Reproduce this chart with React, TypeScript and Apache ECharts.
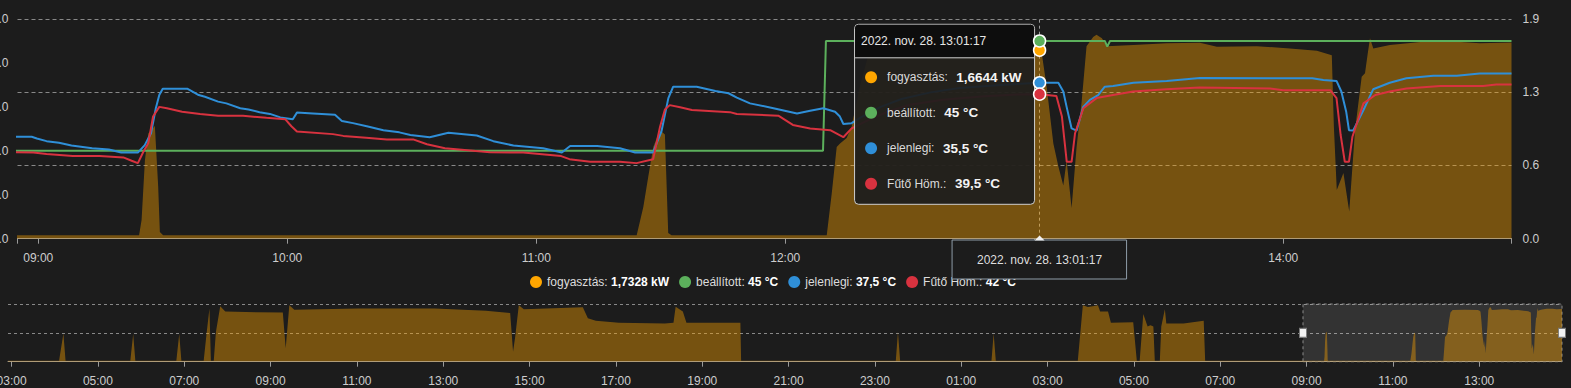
import React, { useEffect, useRef } from 'react';
import * as echarts from 'echarts';

// ---------- data ----------
const TZ_OFFSET = 3600000; // CET (UTC+1)
const HOUR = 3600000;

const VIEW_START = '11-28 08:55:00';
const VIEW_END = '11-28 14:55:00';
const OVERVIEW_START = '11-27 02:55:00';
const LABEL_AXIS_END = '11-28 15:00:00';
const POINTER_TIME = '11-28 13:01:17';

const SERIES_NAMES = ['fogyasztás', 'beállított', 'jelenlegi', 'Fűtő Höm.'];
const SERIES_COLORS = ['#ffa600', '#5cb05c', '#2f8fd8', '#d8323f'];
const LEGEND_VALUES = ['1,7328 kW', '45 °C', '37,5 °C', '42 °C'];
const TOOLTIP_TITLE = '2022. nov. 28. 13:01:17';
const TOOLTIP_VALUES = ['1,6644 kW', '45 °C', '35,5 °C', '39,5 °C'];

const TEMP_MIN = 0;
const TEMP_MAX = 50;
const TEMP_INTERVAL = 10;
const POWER_MAX = 1.94;
const OVERVIEW_MAX = 1.9;

// fogyasztás (kW) – full history
const FOGYASZTAS: [string, number][] = [
  ['11-27 02:55', 0.03],
  ['11-27 04:06', 0.03], ['11-27 04:12', 0.93], ['11-27 04:15', 0.03],
  ['11-27 05:45', 0.03], ['11-27 05:49', 0.91], ['11-27 05:52', 0.03],
  ['11-27 06:49', 0.03], ['11-27 06:53', 0.91], ['11-27 06:56', 0.03],
  ['11-27 07:27', 0.03], ['11-27 07:31', 0.93], ['11-27 07:35', 1.75], ['11-27 07:37', 0.03],
  ['11-27 07:41', 0.03], ['11-27 07:44', 0.98], ['11-27 07:50', 1.83], ['11-27 07:57', 1.65],
  ['11-27 08:40', 1.63], ['11-27 09:17', 1.62], ['11-27 09:21', 0.44], ['11-27 09:26', 1.86],
  ['11-27 09:33', 1.71], ['11-27 11:02', 1.75], ['11-27 12:48', 1.75], ['11-27 13:59', 1.68],
  ['11-27 14:33', 1.6], ['11-27 14:37', 0.33], ['11-27 14:40', 0.82], ['11-27 14:45', 1.86],
  ['11-27 14:52', 1.73], ['11-27 16:14', 1.79], ['11-27 16:21', 1.43], ['11-27 16:32', 1.35],
  ['11-27 17:04', 1.28], ['11-27 18:08', 1.26], ['11-27 18:20', 1.28], ['11-27 18:23', 1.81],
  ['11-27 18:33', 1.65], ['11-27 18:38', 1.28], ['11-27 19:53', 1.28], ['11-27 19:54', 0.03],
  ['11-27 23:29', 0.03], ['11-27 23:32', 0.98], ['11-27 23:35', 0.03],
  ['11-28 01:42', 0.03], ['11-28 01:45', 0.93], ['11-28 01:48', 0.03],
  ['11-28 03:42', 0.03], ['11-28 03:49', 1.86], ['11-28 03:56', 1.8], ['11-28 04:03', 1.83],
  ['11-28 04:10', 1.86], ['11-28 04:13', 1.65], ['11-28 04:24', 1.65], ['11-28 04:28', 1.28],
  ['11-28 04:59', 1.3], ['11-28 05:04', 0.03],
  ['11-28 05:08', 0.03], ['11-28 05:13', 1.57], ['11-28 05:19', 1.16], ['11-28 05:23', 1.2],
  ['11-28 05:27', 1.16], ['11-28 05:29', 0.03],
  ['11-28 05:36', 0.03], ['11-28 05:38', 1.16], ['11-28 05:43', 1.73], ['11-28 05:45', 1.26],
  ['11-28 06:09', 1.26], ['11-28 06:37', 1.35], ['11-28 06:39', 0.03],
  ['11-28 09:24:18', 0.03], ['11-28 09:24:54', 0.165], ['11-28 09:25:42', 0.69], ['11-28 09:26:30', 0.93],
  ['11-28 09:28:06', 0.995], ['11-28 09:28:54', 0.46], ['11-28 09:29:18', 0.06], ['11-28 09:30:06', 0.03],
  ['11-28 11:24:12', 0.03], ['11-28 11:25:48', 0.28], ['11-28 11:27:00', 0.55], ['11-28 11:28:12', 0.81],
  ['11-28 11:29:48', 0.96], ['11-28 11:31:00', 0.92], ['11-28 11:31:48', 0.05], ['11-28 11:32:36', 0.03],
  ['11-28 12:10:00', 0.03], ['11-28 12:11:12', 0.4], ['11-28 12:12:24', 0.81], ['11-28 12:13:12', 0.84],
  ['11-28 12:14:48', 0.89], ['11-28 12:16:00', 0.99], ['11-28 12:18:00', 1.35], ['11-28 12:20:00', 1.62],
  ['11-28 12:23:00', 1.7], ['11-28 12:40:00', 1.71], ['11-28 12:58:00', 1.7], ['11-28 13:00:30', 1.68],
  ['11-28 13:01:17', 1.6644], ['11-28 13:01:48', 1.64], ['11-28 13:03:00', 1.34], ['11-28 13:04:36', 0.84],
  ['11-28 13:05:48', 0.64], ['11-28 13:07:00', 0.47], ['11-28 13:07:48', 0.69], ['11-28 13:09:00', 0.27],
  ['11-28 13:10:12', 0.81], ['11-28 13:11:24', 1.2], ['11-28 13:12:36', 1.7], ['11-28 13:14:12', 1.78],
  ['11-28 13:15:00', 1.8], ['11-28 13:16:18', 1.77], ['11-28 13:17:30', 1.7], ['11-28 13:23:54', 1.71],
  ['11-28 13:31:54', 1.725], ['11-28 13:39:54', 1.73], ['11-28 13:44:00', 1.695], ['11-28 13:53:36', 1.7],
  ['11-28 14:01:36', 1.68], ['11-28 14:08:06', 1.66], ['11-28 14:11:42', 1.62], ['11-28 14:12:12', 0.99],
  ['11-28 14:12:54', 0.43], ['11-28 14:14:30', 0.58], ['11-28 14:15:54', 0.24], ['11-28 14:17:18', 0.96],
  ['11-28 14:18:54', 1.43], ['11-28 14:19:42', 1.46], ['11-28 14:20:18', 1.62], ['11-28 14:20:54', 1.77],
  ['11-28 14:21:42', 1.68], ['11-28 14:25:42', 1.71], ['11-28 14:33:42', 1.74], ['11-28 14:41:48', 1.74],
  ['11-28 14:47:24', 1.725], ['11-28 14:55:00', 1.7328],
];

// beállított (°C)
const BEALLITOTT: [string, number][] = [
  ['08:54:30', 20], ['12:09:06', 20], ['12:09:48', 45], ['13:01:17', 45], ['13:17:00', 45],
  ['13:17:36', 43.7], ['13:18:15', 45], ['14:55:00', 45],
];

// jelenlegi (°C)
const JELENLEGI: [string, number][] = [
  ['08:54:30', 23.2], ['08:58:25', 23.2], ['08:59:40', 22.8], ['09:02:00', 22.2], ['09:05:00', 21.85],
  ['09:08:00', 21.2], ['09:13:00', 20.6], ['09:17:00', 20.3], ['09:20:00', 19.6], ['09:24:00', 19.6],
  ['09:25:40', 21.3], ['09:27:10', 24], ['09:28:20', 29.7], ['09:29:10', 32.7], ['09:30:00', 34.1],
  ['09:36:00', 34.1], ['09:38:40', 32.7], ['09:40:10', 32.3], ['09:43:20', 31.2], ['09:45:20', 30.8],
  ['09:48:40', 29.7], ['09:50:40', 29.4], ['09:53:20', 28.8], ['09:55:50', 28.4], ['09:58:20', 27.6],
  ['10:01:20', 27.2], ['10:02:20', 28.7], ['10:06:10', 28.5], ['10:11:30', 28.2], ['10:13:10', 26.8],
  ['10:15:50', 26.3], ['10:19:10', 25.6], ['10:23:10', 24.7], ['10:27:00', 24.2], ['10:29:40', 23.6],
  ['10:34:20', 23.1], ['10:38:50', 24.1], ['10:45:40', 23.5], ['10:49:40', 22.2], ['10:54:30', 21.2],
  ['11:01:40', 20.6], ['11:06:10', 19.6], ['11:08:10', 21.1], ['11:14:40', 21.1], ['11:20:10', 20.6],
  ['11:23:50', 19.6], ['11:28:10', 19.6], ['11:29:00', 21.7], ['11:30:10', 24.4], ['11:31:50', 32],
  ['11:33:00', 34.6], ['11:38:40', 34.6], ['11:43:10', 33.6], ['11:46:20', 33.1], ['11:48:20', 32.1],
  ['11:51:30', 30.8], ['11:57:10', 29.7], ['12:02:50', 28.5], ['12:06:00', 29.1], ['12:09:10', 29.7],
  ['12:12:00', 28.9], ['12:13:10', 27.8], ['12:14:00', 26.1], ['12:16:00', 26.3], ['12:18:00', 27.5],
  ['12:23:00', 30], ['12:28:00', 31.8], ['12:35:00', 33.3], ['12:42:00', 34.3], ['12:52:00', 35.0],
  ['13:01:17', 35.5], ['13:05:48', 35.5], ['13:07:00', 33.5], ['13:07:48', 30], ['13:09:00', 25.1],
  ['13:10:12', 24.6], ['13:11:48', 30], ['13:13:24', 31.6], ['13:15:24', 32.7], ['13:17:00', 34.6],
  ['13:19:00', 34.75], ['13:23:54', 35.5], ['13:31:54', 35.9], ['13:39:54', 36.6], ['14:07:00', 36.5],
  ['14:09:40', 36.1], ['14:12:50', 35.9], ['14:14:00', 33.5], ['14:15:10', 28.9], ['14:15:50', 24.7],
  ['14:16:50', 24.6], ['14:19:20', 29.3], ['14:21:40', 34], ['14:25:40', 35.5], ['14:29:40', 36.5],
  ['14:36:10', 37.1], ['14:41:50', 37.1], ['14:47:20', 37.6], ['14:55:00', 37.6],
];

// Fűtő Höm. (°C)
const FUTO_HOM: [string, number][] = [
  ['08:54:30', 19.7], ['08:58:50', 19.6], ['09:02:00', 19.3], ['09:08:20', 18.8], ['09:14:50', 18.8],
  ['09:20:30', 18.5], ['09:22:30', 17.75], ['09:24:00', 17.2], ['09:25:20', 19.8], ['09:26:30', 21.7],
  ['09:27:40', 27.8], ['09:29:10', 30], ['09:31:00', 29.7], ['09:34:40', 28.9], ['09:39:00', 28.4],
  ['09:43:20', 28], ['09:49:20', 28], ['09:55:00', 27.5], ['09:59:30', 27.2], ['10:01:00', 25.6],
  ['10:02:20', 24.4], ['10:11:00', 23.8], ['10:13:30', 23.4], ['10:19:00', 23], ['10:24:00', 22.6],
  ['10:30:20', 22.6], ['10:33:40', 21.5], ['10:38:00', 20.6], ['10:48:50', 19.7], ['10:56:50', 19.6],
  ['11:06:00', 18.8], ['11:08:00', 18.1], ['11:13:00', 17.5], ['11:20:10', 17.5], ['11:24:10', 17.2],
  ['11:28:10', 18.1], ['11:29:50', 25.5], ['11:31:00', 29.4], ['11:32:10', 30.4], ['11:34:40', 29.9],
  ['11:37:30', 29.3], ['11:46:40', 28.8], ['11:48:20', 28.4], ['11:58:20', 28], ['12:01:50', 25.9],
  ['12:06:00', 25.1], ['12:10:50', 24.7], ['12:14:00', 23.1], ['12:16:00', 25.1], ['12:20:00', 27],
  ['12:25:00', 29], ['12:30:00', 30.5], ['12:38:00', 31.6], ['12:48:00', 32.4], ['12:56:00', 32.8],
  ['13:01:17', 32.9], ['13:05:20', 32.5], ['13:06:40', 27.8], ['13:07:50', 17.5], ['13:09:00', 17.5],
  ['13:09:50', 24], ['13:11:50', 29.7], ['13:15:00', 32], ['13:19:00', 32.7], ['13:23:50', 33.5],
  ['13:31:50', 34], ['13:39:50', 34.4], ['13:56:50', 34.2], ['14:00:00', 33.8], ['14:11:20', 33.8],
  ['14:12:50', 32], ['14:13:50', 23.6], ['14:14:50', 17.5], ['14:15:50', 17.5], ['14:16:40', 23.2],
  ['14:19:20', 30.8], ['14:22:10', 32.7], ['14:25:40', 33.5], ['14:29:40', 34.2], ['14:37:50', 34.75],
  ['14:48:10', 34.75], ['14:51:20', 35.1], ['14:55:00', 35.1],
];

// ---------- helpers ----------
const FONT = "'Liberation Sans', Arial, Helvetica, sans-serif";
const LABEL_COLOR = '#cdcdcd';
const AXIS_COLOR = '#9a9a9a';
const SPLIT_COLOR = 'rgba(255,255,255,0.48)';

function ts(s: string): number {
  const full = s.indexOf(' ') < 0 ? '11-28 ' + s : s;
  const m = full.match(/^(\d+)-(\d+) (\d+):(\d+)(?::(\d+))?$/)!;
  return Date.UTC(2022, +m[1] - 1, +m[2], +m[3], +m[4], m[5] ? +m[5] : 0) - TZ_OFFSET;
}

function toSeries(arr: [string, number][]) {
  return arr.map(([t, v]) => [ts(t), v]);
}

function valueAt(arr: [string, number][], t: string): number {
  const target = ts(t);
  const hit = arr.find(([tt]) => ts(tt) === target);
  return hit ? hit[1] : 0;
}

function hourLabel(v: number): string {
  const d = new Date(v + TZ_OFFSET);
  if (d.getUTCMinutes() !== 0 || d.getUTCSeconds() !== 0) return '';
  return String(d.getUTCHours()).padStart(2, '0') + ':00';
}

// the main axis label lying under the pointer's time box is hidden by it
function mainHourLabel(v: number): string {
  if (Math.abs(v - ts(POINTER_TIME)) < 25 * 60000) return '';
  return hourLabel(v);
}

const SERIES_DATA = [FOGYASZTAS, BEALLITOTT, JELENLEGI, FUTO_HOM];

function buildOption(): any {
  const pointer = ts(POINTER_TIME);
  const markPointFor = (i: number) => ({
    silent: true,
    z: 10,
    symbol: 'circle',
    symbolSize: 12,
    label: { show: false },
    itemStyle: { color: SERIES_COLORS[i], borderColor: '#ffffff', borderWidth: 1.5 },
    data: [{ coord: [pointer, valueAt(SERIES_DATA[i], POINTER_TIME)] }],
  });

  const axisLabelStyle = { color: LABEL_COLOR, fontSize: 12, fontFamily: FONT };
  const gridBase = { containLabel: false, outerBoundsMode: 'none' };

  return {
    animation: false,
    useUTC: true,
    backgroundColor: '#1c1c1c',
    textStyle: { fontFamily: FONT },
    tooltip: { show: false },
    legend: {
      data: SERIES_NAMES,
      left: 525,
      top: 271,
      icon: 'circle',
      itemWidth: 12,
      itemHeight: 12,
      itemGap: 10,
      selectedMode: false,
      formatter: (name: string) => {
        const i = SERIES_NAMES.indexOf(name);
        return `{l|${name}:} {v|${LEGEND_VALUES[i]}}`;
      },
      textStyle: {
        rich: {
          l: { color: '#dcdcdc', fontSize: 12, fontFamily: FONT },
          v: { color: '#ffffff', fontSize: 12, fontWeight: 'bold', fontFamily: FONT },
        },
      },
    },
    grid: [
      { ...gridBase, left: 17.5, top: 19, width: 1494, height: 219.7 },
      { ...gridBase, left: 8, top: 304, width: 1554, height: 57.7 },
      { ...gridBase, left: 17.5, top: 19, width: 1514.75, height: 219.7 },
    ],
    xAxis: [
      {
        type: 'time', gridIndex: 0, min: ts(VIEW_START), max: ts(VIEW_END),
        axisLine: { lineStyle: { color: AXIS_COLOR, width: 1 } },
        axisTick: { show: true, length: 5, lineStyle: { color: AXIS_COLOR } },
        axisLabel: { show: false },
        splitLine: { show: false },
      },
      {
        type: 'time', gridIndex: 1, min: ts(OVERVIEW_START), max: ts(VIEW_END),
        minInterval: 2.2 * HOUR, maxInterval: 2.2 * HOUR,
        axisLine: { lineStyle: { color: AXIS_COLOR, width: 1 } },
        axisTick: { show: true, length: 5, lineStyle: { color: AXIS_COLOR } },
        axisLabel: { ...axisLabelStyle, margin: 13, formatter: hourLabel },
        splitLine: { show: false },
      },
      {
        type: 'time', gridIndex: 2, min: ts(VIEW_START), max: ts(LABEL_AXIS_END),
        axisLine: { show: false },
        axisTick: { show: false },
        axisLabel: { ...axisLabelStyle, margin: 13, formatter: mainHourLabel },
        splitLine: { show: false },
      },
    ],
    yAxis: [
      {
        type: 'value', gridIndex: 0, position: 'left', min: TEMP_MIN, max: TEMP_MAX, interval: TEMP_INTERVAL,
        axisLine: { show: false }, axisTick: { show: false }, splitLine: { show: false },
        axisLabel: { ...axisLabelStyle, margin: 9, formatter: (v: number) => v.toFixed(1) },
      },
      {
        type: 'value', gridIndex: 0, position: 'right', min: 0, max: POWER_MAX, interval: POWER_MAX / 3,
        axisLine: { show: false }, axisTick: { show: false },
        splitLine: { show: true, lineStyle: { color: SPLIT_COLOR, type: [4, 3], width: 1 } },
        axisLabel: { ...axisLabelStyle, margin: 11, formatter: (v: number) => v.toFixed(1) },
      },
      {
        type: 'value', gridIndex: 1, min: 0, max: OVERVIEW_MAX, interval: OVERVIEW_MAX / 2,
        axisLine: { show: false }, axisTick: { show: false }, axisLabel: { show: false },
        splitLine: { show: true, lineStyle: { color: SPLIT_COLOR, type: [3, 3], width: 1 } },
      },
      { type: 'value', gridIndex: 2, min: 0, max: 1, show: false },
    ],
    series: [
      {
        name: SERIES_NAMES[0], type: 'line', xAxisIndex: 0, yAxisIndex: 1,
        data: toSeries(FOGYASZTAS), showSymbol: false, symbol: 'none', silent: true,
        color: SERIES_COLORS[0],
        lineStyle: { width: 0, opacity: 0 },
        areaStyle: { color: SERIES_COLORS[0], opacity: 0.4 },
        markLine: {
          silent: true, symbol: 'none', z: 3,
          label: { show: false },
          lineStyle: { color: 'rgba(255,255,255,0.55)', type: [3, 3], width: 1 },
          data: [{ xAxis: pointer }],
        },
        markPoint: markPointFor(0),
      },
      {
        name: SERIES_NAMES[1], type: 'line', xAxisIndex: 0, yAxisIndex: 0,
        data: toSeries(BEALLITOTT), showSymbol: false, symbol: 'none', silent: true,
        color: SERIES_COLORS[1], lineStyle: { width: 2, color: SERIES_COLORS[1] },
        markPoint: markPointFor(1),
      },
      {
        name: SERIES_NAMES[2], type: 'line', xAxisIndex: 0, yAxisIndex: 0,
        data: toSeries(JELENLEGI), showSymbol: false, symbol: 'none', silent: true,
        color: SERIES_COLORS[2], lineStyle: { width: 2, color: SERIES_COLORS[2] },
        markPoint: markPointFor(2),
      },
      {
        name: SERIES_NAMES[3], type: 'line', xAxisIndex: 0, yAxisIndex: 0,
        data: toSeries(FUTO_HOM), showSymbol: false, symbol: 'none', silent: true,
        color: SERIES_COLORS[3], lineStyle: { width: 2, color: SERIES_COLORS[3] },
        markPoint: markPointFor(3),
      },
      {
        name: 'overview', type: 'line', xAxisIndex: 1, yAxisIndex: 2,
        data: toSeries(FOGYASZTAS), showSymbol: false, symbol: 'none', silent: true,
        color: SERIES_COLORS[0],
        lineStyle: { width: 0, opacity: 0 },
        areaStyle: { color: SERIES_COLORS[0], opacity: 0.4 },
        markArea: {
          silent: true,
          itemStyle: {
            color: 'rgba(255,255,255,0.1)', borderColor: '#8a8a8a', borderWidth: 1, borderType: [3, 3],
          },
          data: [[{ xAxis: ts(VIEW_START) }, { xAxis: ts(VIEW_END) }]],
        },
        markPoint: {
          silent: true, z: 10, symbol: 'rect', symbolSize: [7, 9], label: { show: false },
          itemStyle: { color: '#f2f2f2', borderColor: '#7a7a7a', borderWidth: 1 },
          data: [
            { coord: [ts(VIEW_START), OVERVIEW_MAX / 2] },
            { coord: [ts(VIEW_END), OVERVIEW_MAX / 2] },
          ],
        },
      },
    ],
  };
}

function buildGraphic(px: number, top: number, bottom: number): any[] {
  const tipW = 180;
  const tipH = 180;
  const headH = 33;
  const rows: any[] = [];
  SERIES_NAMES.forEach((name, i) => {
    const cy = 53 + 35.5 * i;
    rows.push({
      type: 'circle', z: 4, shape: { cx: 16.5, cy, r: 6 }, style: { fill: SERIES_COLORS[i] },
    });
    rows.push({
      type: 'text', z: 4, x: 32.5, y: cy,
      style: {
        text: `{l|${name}:}{v|${TOOLTIP_VALUES[i]}}`,
        verticalAlign: 'middle',
        rich: {
          l: { fill: '#dadada', fontSize: 12, fontFamily: FONT },
          v: { fill: '#f4f4f4', fontSize: 13.5, fontWeight: 'bold', fontFamily: FONT, padding: [0, 0, 0, 8.5] },
        },
      },
    });
  });

  return [
    {
      type: 'group', x: px - 185, y: top + 5.3, z: 4, silent: true,
      children: [
        {
          type: 'rect', z: 4, shape: { x: 0, y: 0, width: tipW, height: tipH, r: 4 },
          style: { fill: 'rgba(29,29,29,0.93)', stroke: '#cfcfcf', lineWidth: 1 },
        },
        {
          type: 'rect', z: 4, shape: { x: 0.5, y: 0.5, width: tipW - 1, height: headH, r: [3.5, 3.5, 0, 0] },
          style: { fill: 'rgba(13,13,13,0.96)' },
        },
        {
          type: 'line', z: 4, shape: { x1: 0.5, y1: headH + 0.5, x2: tipW - 0.5, y2: headH + 0.5 },
          style: { stroke: '#cfcfcf', lineWidth: 1 },
        },
        {
          type: 'text', z: 4, x: 6.5, y: 16.5,
          style: { text: TOOLTIP_TITLE, fill: '#e6e6e6', fontSize: 12, fontFamily: FONT, verticalAlign: 'middle' },
        },
        ...rows,
      ],
    },
    {
      type: 'group', x: px, y: bottom + 1.3, z: 6, silent: true,
      children: [
        {
          type: 'rect', z: 6, shape: { x: -87.5, y: 0, width: 174.5, height: 39 },
          style: { fill: '#1c1c1c', stroke: '#8e9ca8', lineWidth: 1 },
        },
        {
          type: 'text', z: 6, x: 0, y: 19.5,
          style: {
            text: TOOLTIP_TITLE, fill: '#dedede', fontSize: 12, fontFamily: FONT,
            align: 'center', verticalAlign: 'middle',
          },
        },
        {
          type: 'polygon', z: 6, shape: { points: [[-5, 0.5], [5, 0.5], [0, -4.5]] },
          style: { fill: '#f0f0f0' },
        },
      ],
    },
  ];
}

export default function App() {
  const ref = useRef<HTMLDivElement>(null);
  useEffect(() => {
    document.body.style.margin = '0';
    document.body.style.background = '#1c1c1c';
    const chart = echarts.init(ref.current!, null, { renderer: 'svg' });
    chart.setOption(buildOption());
    const px = chart.convertToPixel({ xAxisIndex: 0 }, ts(POINTER_TIME)) as number;
    const top = chart.convertToPixel({ yAxisIndex: 1 }, POWER_MAX) as number;
    const bottom = chart.convertToPixel({ yAxisIndex: 1 }, 0) as number;
    chart.setOption({ graphic: buildGraphic(px, top, bottom) });
    return () => chart.dispose();
  }, []);
  return <div ref={ref} style={{ width: 1571, height: 388 }} />;
}
